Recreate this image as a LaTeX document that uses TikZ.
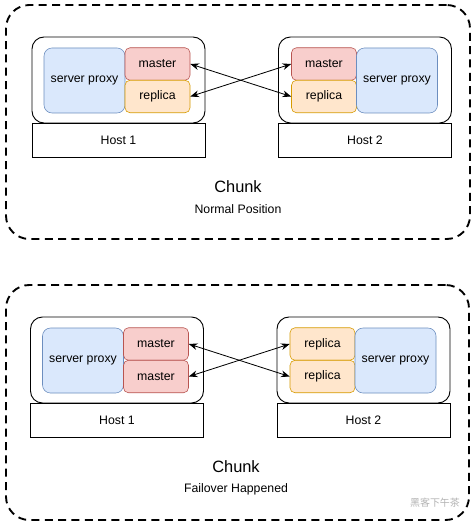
\documentclass[tikz,border=0pt]{standalone}
\usepackage{fontspec}
\setmainfont{Liberation Sans}
\newfontfamily\cjkfont{Noto Sans CJK SC}
\usepackage{tikz}
\usetikzlibrary{arrows.meta,positioning}
\definecolor{ProxyFill}{HTML}{DAE8FC}
\definecolor{ProxyLine}{HTML}{6C8EBF}
\definecolor{MasterFill}{HTML}{F8CECC}
\definecolor{MasterLine}{HTML}{B85450}
\definecolor{ReplicaFill}{HTML}{FFE6CC}
\definecolor{ReplicaLine}{HTML}{D79B00}
\tikzset{
    % Base node style
    basenode/.style={
        draw=black,
        fill=white,
        line width=0.8pt,
        align=center,
        font=\fontsize{10.5}{12}\selectfont
    },
    % Dashed chunk frame
    chunkframe/.style={
        draw=black,
        line width=1.6pt,
        dash pattern=on 2.4mm off 1.6mm,
        rounded corners=7mm,
        minimum width=139.2mm,
        minimum height=70.2mm
    },
    % Host container
    hostframe/.style={
        basenode,
        rounded corners=3.6mm,
        minimum width=51.9mm,
        minimum height=25.8mm
    },
    % Host label box
    hostbox/.style={
        basenode,
        minimum width=51.9mm,
        minimum height=10.2mm
    },
    % Server proxy
    proxynode/.style={
        basenode,
        line width=0.5pt,
        draw=ProxyLine,
        fill=ProxyFill,
        rounded corners=2.4mm,
        minimum width=24.3mm,
        minimum height=19.5mm
    },
    % Master shard
    masternode/.style={
        basenode,
        line width=0.5pt,
        draw=MasterLine,
        fill=MasterFill,
        rounded corners=1.5mm,
        minimum width=19.5mm,
        minimum height=9.75mm
    },
    % Replica shard
    replicanode/.style={
        basenode,
        line width=0.5pt,
        draw=ReplicaLine,
        fill=ReplicaFill,
        rounded corners=1.5mm,
        minimum width=19.5mm,
        minimum height=9.75mm
    },
    % Bidirectional arrow
    biarrow/.style={
        {Stealth[length=2.6mm,width=2mm]}-{Stealth[length=2.6mm,width=2mm]},
        line width=0.7pt,
        draw=black
    },
    titlenode/.style={font=\fontsize{14}{16}\selectfont},
    subtitlenode/.style={font=\fontsize{10.5}{12}\selectfont}
}
\begin{document}
\begin{tikzpicture}[x=0.3mm,y=-0.3mm]
    \useasboundingbox (0,0) rectangle (474,526);

    % Normal position
    \node[chunkframe] (chunkA) at (238,122) {};
    \node[hostframe] (contA1) at (118.5,80) {};
    \node[hostbox] (hostA1) at (118.5,140) {Host 1};
    \node[proxynode] (proxyA1) at (84.5,80.5) {server proxy};
    \node[masternode] (mA1) at (157.5,64) {master};
    \node[replicanode] (rA1) at (157.5,96.5) {replica};
    \node[hostframe] (contA2) at (365,80) {};
    \node[hostbox] (hostA2) at (365,140) {Host 2};
    \node[masternode] (mA2) at (324,64) {master};
    \node[replicanode] (rA2) at (324,96.5) {replica};
    \node[proxynode] (proxyA2) at (397,80.5) {server proxy};
    \node[titlenode] (titleA) at (238,187) {Chunk};
    \node[subtitlenode] (subA) at (238,209) {Normal Position};

    \draw[biarrow] (mA1.east) -- (rA2.west);
    \draw[biarrow] (rA1.east) -- (mA2.west);

    % Failover happened
    \node[chunkframe, minimum width=138.9mm, minimum height=70.5mm] (chunkB) at (237.5,402.5) {};
    \node[hostframe] (contB1) at (117,360) {};
    \node[hostbox] (hostB1) at (117,420) {Host 1};
    \node[proxynode] (proxyB1) at (83,360.5) {server proxy};
    \node[masternode] (mB1) at (156,344) {master};
    \node[masternode] (mB1b) at (156,376.5) {master};
    \node[hostframe] (contB2) at (363.5,360) {};
    \node[hostbox] (hostB2) at (363.5,420) {Host 2};
    \node[replicanode] (rB2) at (322.5,344) {replica};
    \node[replicanode] (rB2b) at (322.5,376.5) {replica};
    \node[proxynode] (proxyB2) at (395.5,360.5) {server proxy};
    \node[titlenode] (titleB) at (236,467) {Chunk};
    \node[subtitlenode] (subB) at (236,489) {Failover Happened};

    \draw[biarrow] (mB1.east) -- (rB2b.west);
    \draw[biarrow] (mB1b.east) -- (rB2.west);

    % watermark
    \node[font=\cjkfont\fontsize{8.5}{10}\selectfont, text=black!30] (mark) at (435,503) {黑客下午茶};
\end{tikzpicture}
\end{document}
